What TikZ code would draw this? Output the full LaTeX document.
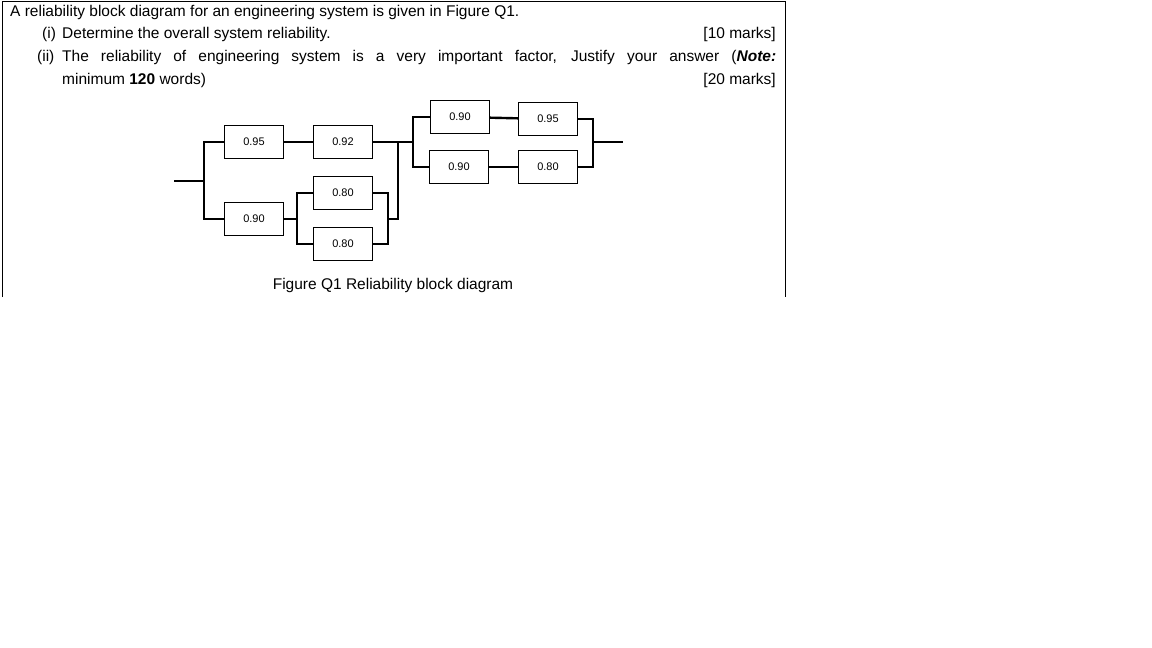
\documentclass[tikz,border=0pt]{standalone}
\usepackage{fontspec}
\setmainfont{Liberation Sans}
\begin{document}
\begin{tikzpicture}[x=1pt,y=-1pt,
  blk/.style={draw,line width=0.9pt,minimum width=59pt,minimum height=33pt,inner sep=0pt,font=\fontsize{11}{13}\selectfont},
  wire/.style={line width=2.4pt},
  txt/.style={inner sep=0pt,font=\fontsize{15.5}{18}\selectfont}]
\useasboundingbox (0,0) rectangle (1152,648);
\draw[line width=0.8pt] (2,297) -- (2,1) -- (785,1) -- (785,297);
\node[txt,anchor=west] (l1) at (10,12) {A reliability block diagram for an engineering system is given in Figure Q1.};
\node[txt,anchor=west] (i1) at (42,34) {(i)};
\node[txt,anchor=west] (l2) at (62,34) {Determine the overall system reliability.};
\node[txt,anchor=east] (m1) at (776,34) {[10 marks]};
\node[txt,anchor=west] (i2) at (37,57) {(ii)};
\node[txt,anchor=west] (l3) at (62,57) {\makebox[714pt][s]{The reliability of engineering system is a very important factor, Justify your answer (\textbf{\textit{Note:}}}};
\node[txt,anchor=west] (l4) at (62,80) {minimum \textbf{120} words)};
\node[txt,anchor=east] (m2) at (776,80) {[20 marks]};
\node[txt] (cap) at (393,285) {Figure Q1 Reliability block diagram};
% blocks
\node[blk] (a) at (254,142) {0.95};
\node[blk] (b) at (343,142) {0.92};
\node[blk] (c) at (254,219) {0.90};
\node[blk] (d) at (343,193) {0.80};
\node[blk] (e) at (343,244) {0.80};
\node[blk] (f) at (460,117) {0.90};
\node[blk] (g) at (548,119) {0.95};
\node[blk] (h) at (459,167) {0.90};
\node[blk] (k) at (548,167) {0.80};
\coordinate (in) at (174,181);
\coordinate (out) at (623,142);
% wires
\draw[wire] (in) -- (204,181);
\draw[wire] (a.west) -| (204,181) |- (c.west);
\draw[wire] (a) -- (b);
\draw[wire] (c.east) -- (297,219);
\draw[wire] (d.west) -| (297,219) |- (e.west);
\draw[wire] (d.east) -| (388,219) |- (e.east);
\draw[wire] (388,219) -- (398,219) -- (398,142);
\draw[wire] (b.east) -- (413,142);
\draw[wire] (f.west) -| (413,142) |- (h.west);
\draw[wire] (f) -- (g);
\draw[wire] (h) -- (k);
\draw[wire] (g.east) -| (593,142) |- (k.east);
\draw[wire] (593,142) -- (out);
\end{tikzpicture}
\end{document}
